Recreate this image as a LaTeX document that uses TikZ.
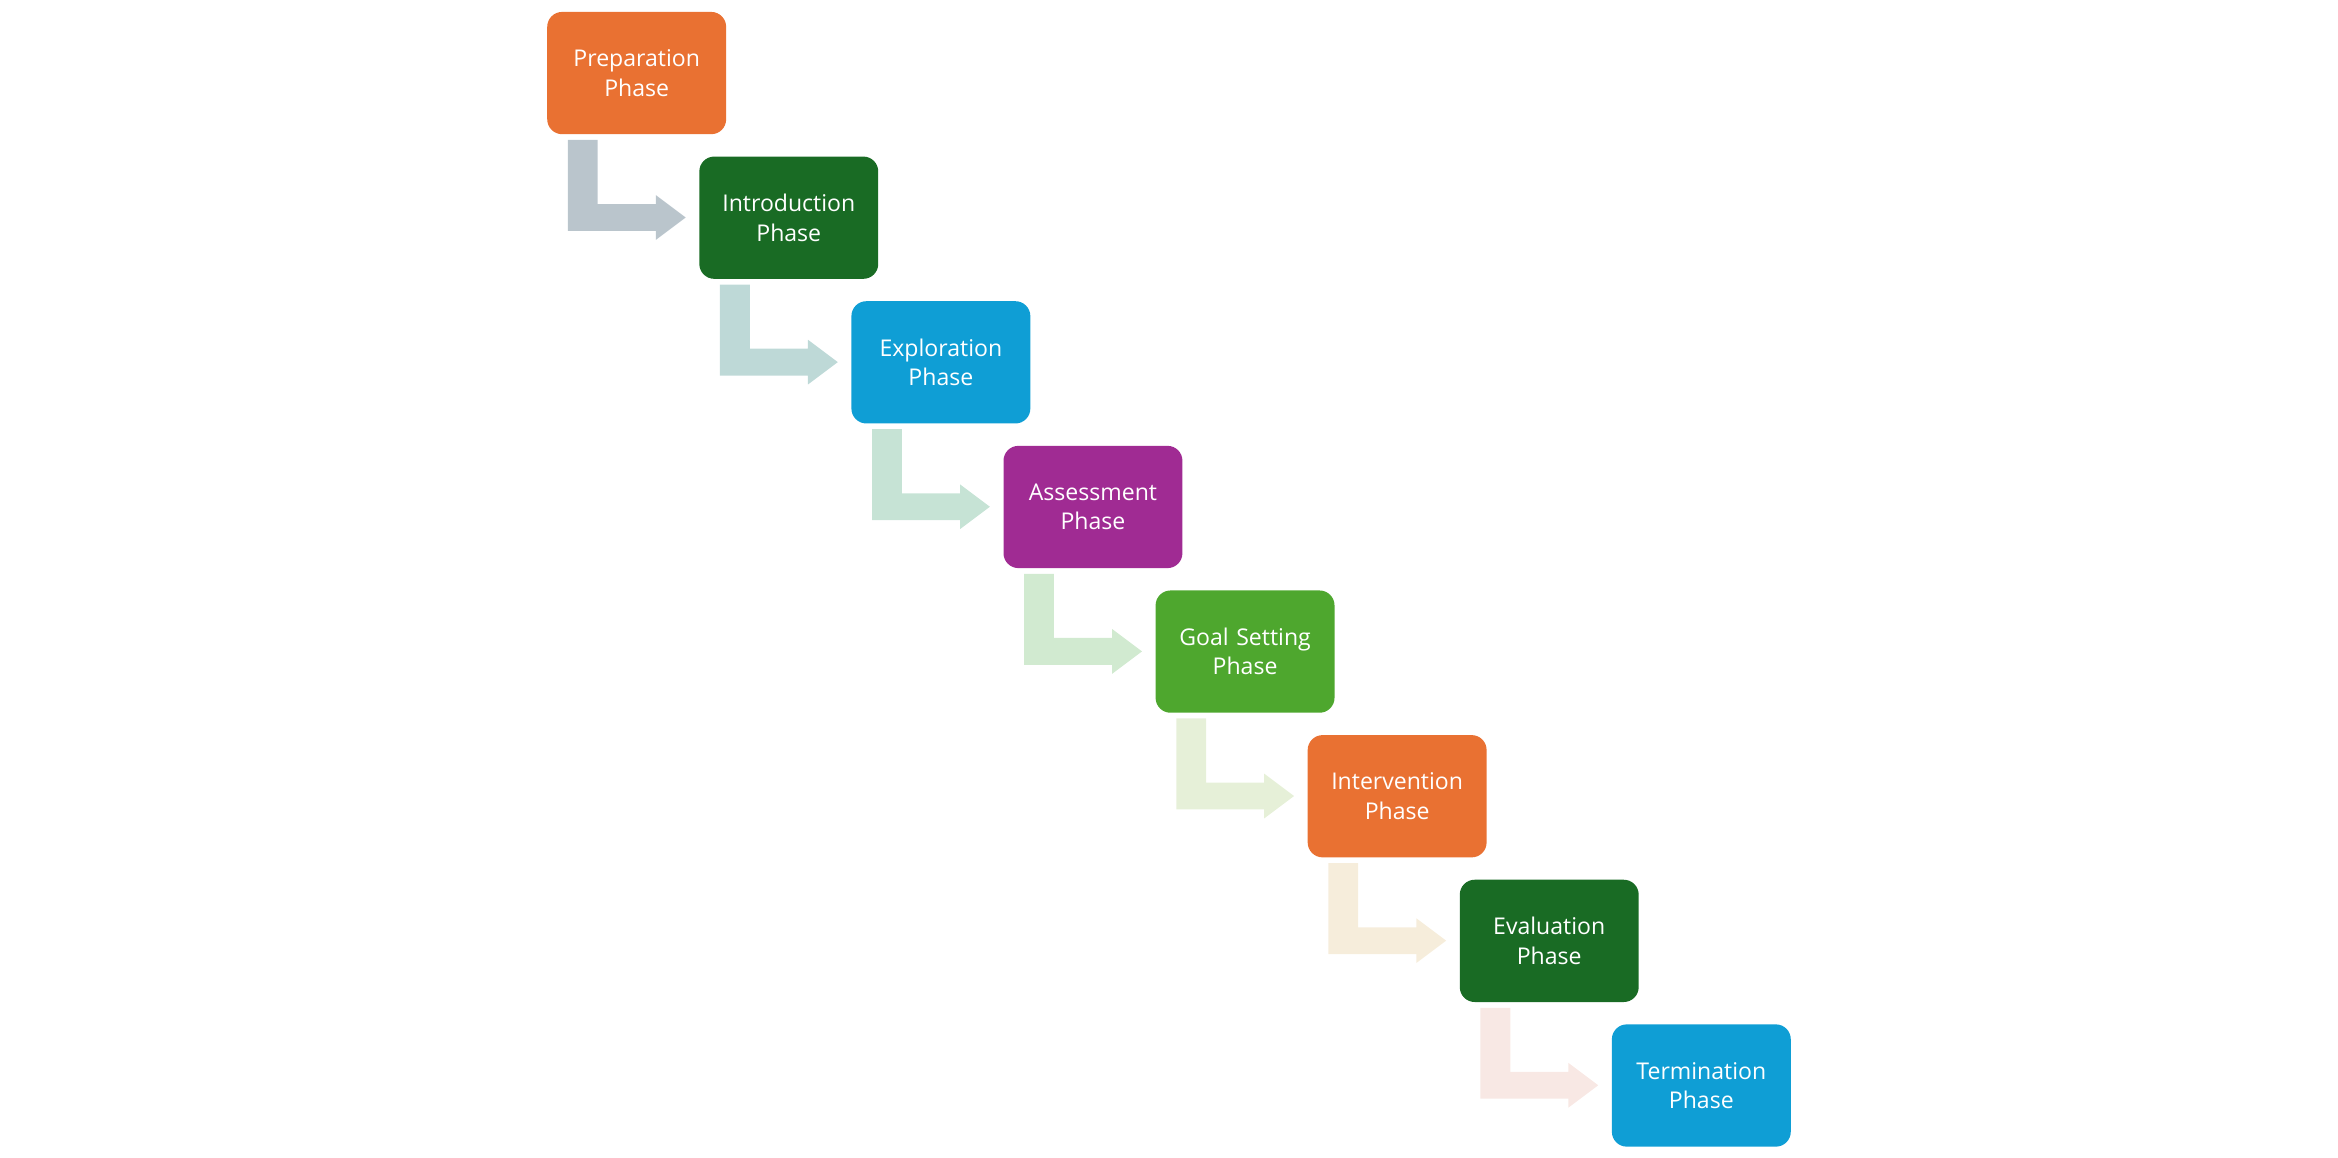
\documentclass[tikz,border=0pt]{standalone}
\usepackage{fontspec}
\setmainfont{Open Sans}
\usetikzlibrary{positioning,calc}
\definecolor{orangeP}{HTML}{E97132}
\definecolor{greenD}{HTML}{196B24}
\definecolor{blueP}{HTML}{0F9ED5}
\definecolor{purpleP}{HTML}{A02B93}
\definecolor{greenP}{HTML}{4EA72E}
\tikzset{
  phase/.style={rounded corners=0.5cm, minimum width=6cm, minimum height=4.1cm,
    text width=5.6cm, align=center, text=white, inner sep=0pt,
    font=\fontsize{22}{28}\selectfont},
}
\begin{document}
\begin{tikzpicture}[x=0.05cm,y=-0.05cm]
  \useasboundingbox (0,0) rectangle (1568,776);
  \foreach \i/\txt/\col in {0/Preparation/orangeP, 1/Introduction/greenD, 2/Exploration/blueP,
      3/Assessment/purpleP, 4/Goal Setting/greenP, 5/Intervention/orangeP,
      6/Evaluation/greenD, 7/Termination/blueP}
    \node[phase, fill=\col] (p\i) at (427+102*\i, 49+97*\i) {\txt\\Phase};
  % bent connectors
  \foreach \i/\col in {0/BAC5CC, 1/BED9D7, 2/C6E3D5, 3/D1EAD0, 4/E6F0D8, 5/F6EDDB, 6/F8E8E4} {
    \definecolor{arr}{HTML}{\col}
    \fill[arr] ($(p\i.north west)+(14,86)$) -- ++(20,0) -- ++(0,43) -- ++(39,0)
      -- ++(0,-6) -- ++(20,15) -- ++(-20,15) -- ++(0,-6) -- ++(-59,0) -- cycle;
  }
\end{tikzpicture}
\end{document}
